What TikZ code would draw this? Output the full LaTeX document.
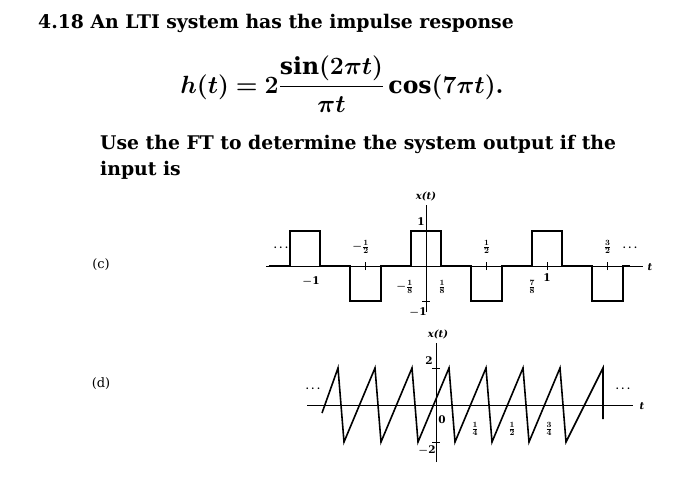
\documentclass[tikz,border=0pt]{standalone}
\usepackage{amsmath,bm}
\usepackage{fontspec}
\setmainfont{DejaVu Serif}
\begin{document}
\begin{tikzpicture}[x=1pt,y=1pt,
  ttl/.style={anchor=base west,font=\fontsize{18.8}{22}\selectfont\bfseries,inner sep=0},
  sig/.style={line width=1.6pt,line join=miter},
  ax/.style={line width=0.7pt},
  lab/.style={font=\fontsize{10}{12}\selectfont,inner sep=1pt},
  tk/.style={font=\fontsize{10.5}{12}\selectfont\bfseries,inner sep=0.5pt},
  fr/.style={font=\fontsize{11}{12}\selectfont\bfseries,inner sep=0.5pt}]
\useasboundingbox (0,0) rectangle (700,-478);
\node[ttl] (t1) at (38,-29) {4.18 An LTI system has the impulse response};
\node[font=\fontsize{23.5}{26}\selectfont,anchor=center] (eq) at (342,-84)
  {$\bm{h(t)=2\dfrac{\sin(2\pi t)}{\pi t}\cos(7\pi t).}$};
\node[ttl] (t2) at (100,-150) {Use the FT to determine the system output if the};
\node[ttl] (t3) at (100,-176) {input is};
\node[lab,font=\fontsize{13}{15}\selectfont] (lc) at (101,-265) {(c)};
\node[lab,font=\fontsize{13}{15}\selectfont] (ld) at (101,-384) {(d)};
% ---------- (c)
\begin{scope}[shift={(426,-266)}]
\coordinate (ca0) at (-160,0); \coordinate (ca1) at (217,0);
\draw[ax] (ca0) -- (ca1);
\coordinate (cv0) at (0,-46); \coordinate (cv1) at (0,61);
\draw[ax] (cv0) -- (cv1);
\draw[sig] (-121*1.3,0)
  \foreach \k in {-1,0,1} {
   -- ({121*\k-15},0) -- ({121*\k-15},35) -- ({121*\k+15},35) -- ({121*\k+15},0)
   -- ({121*\k+45},0) -- ({121*\k+45},-35) -- ({121*\k+76},-35) -- ({121*\k+76},0)}
  -- (204,0);
\foreach \x in {-60.5,60.5,121,181.5} \draw[ax] (\x,-4) -- (\x,4);
\draw[ax] (-4,-35) -- (4,-35);
\node[tk,font=\fontsize{10}{12}\selectfont\bfseries\itshape] (cxl) at (0,70) {x(t)};
\node[tk] (c1) at (-5,44) {1};
\node[tk] (cm1) at (-8,-46) {$\bm{-}$1};
\node[tk] (cn1) at (-115,-15) {$\bm{-}$1};
\node[fr] (cmh) at (-65,19) {$\bm{-\tfrac{1}{2}}$};
\node[fr] (ch) at (60.5,19) {$\bm{\tfrac{1}{2}}$};
\node[fr] (c32) at (181.5,19) {$\bm{\tfrac{3}{2}}$};
\node[fr] (cme) at (-21,-21) {$\bm{-\tfrac{1}{8}}$};
\node[fr] (ce) at (16,-21) {$\bm{\tfrac{1}{8}}$};
\node[fr] (c78) at (106,-21) {$\bm{\tfrac{7}{8}}$};
\node[tk] (cone) at (121,-12) {1};
\node[tk] (cdl) at (-144,18) {$\bm{\cdots}$};
\node[tk] (cdr) at (205,18) {$\bm{\cdots}$};
\node[tk,font=\fontsize{10}{12}\selectfont\bfseries\itshape] (ct) at (224,-1) {t};
\end{scope}
% ---------- (d)
\begin{scope}[shift={(436,-405)}]
\coordinate (da0) at (-129,0); \coordinate (da1) at (197,0);
\draw[ax] (da0) -- (da1);
\coordinate (dv0) at (0,-57); \coordinate (dv1) at (0,62);
\draw[ax] (dv0) -- (dv1);
\draw[sig] (-114,-8)
  \foreach \k in {-3,...,3} {
   -- ({37*\k+13},37) -- ({37*\k+19},-37) }
  -- (167,37) -- (167,-14);
\draw[ax] (-4,37) -- (4,37);
\draw[ax] (-4,-37) -- (4,-37);
\node[tk,font=\fontsize{10}{12}\selectfont\bfseries\itshape] (dxl) at (2,71) {x(t)};
\node[tk] (d2) at (-7,44) {2};
\node[tk] (dm2) at (-9,-45) {$\bm{-}$2};
\node[tk] (d0) at (6,-15) {0};
\node[fr] (dq) at (39,-24) {$\bm{\tfrac{1}{4}}$};
\node[fr] (dh) at (76,-24) {$\bm{\tfrac{1}{2}}$};
\node[fr] (d34) at (113,-24) {$\bm{\tfrac{3}{4}}$};
\node[tk] (ddl) at (-122,16) {$\bm{\cdots}$};
\node[tk] (ddr) at (188,16) {$\bm{\cdots}$};
\node[tk,font=\fontsize{10}{12}\selectfont\bfseries\itshape] (dt) at (206,-1) {t};
\end{scope}
\end{tikzpicture}
\end{document}
